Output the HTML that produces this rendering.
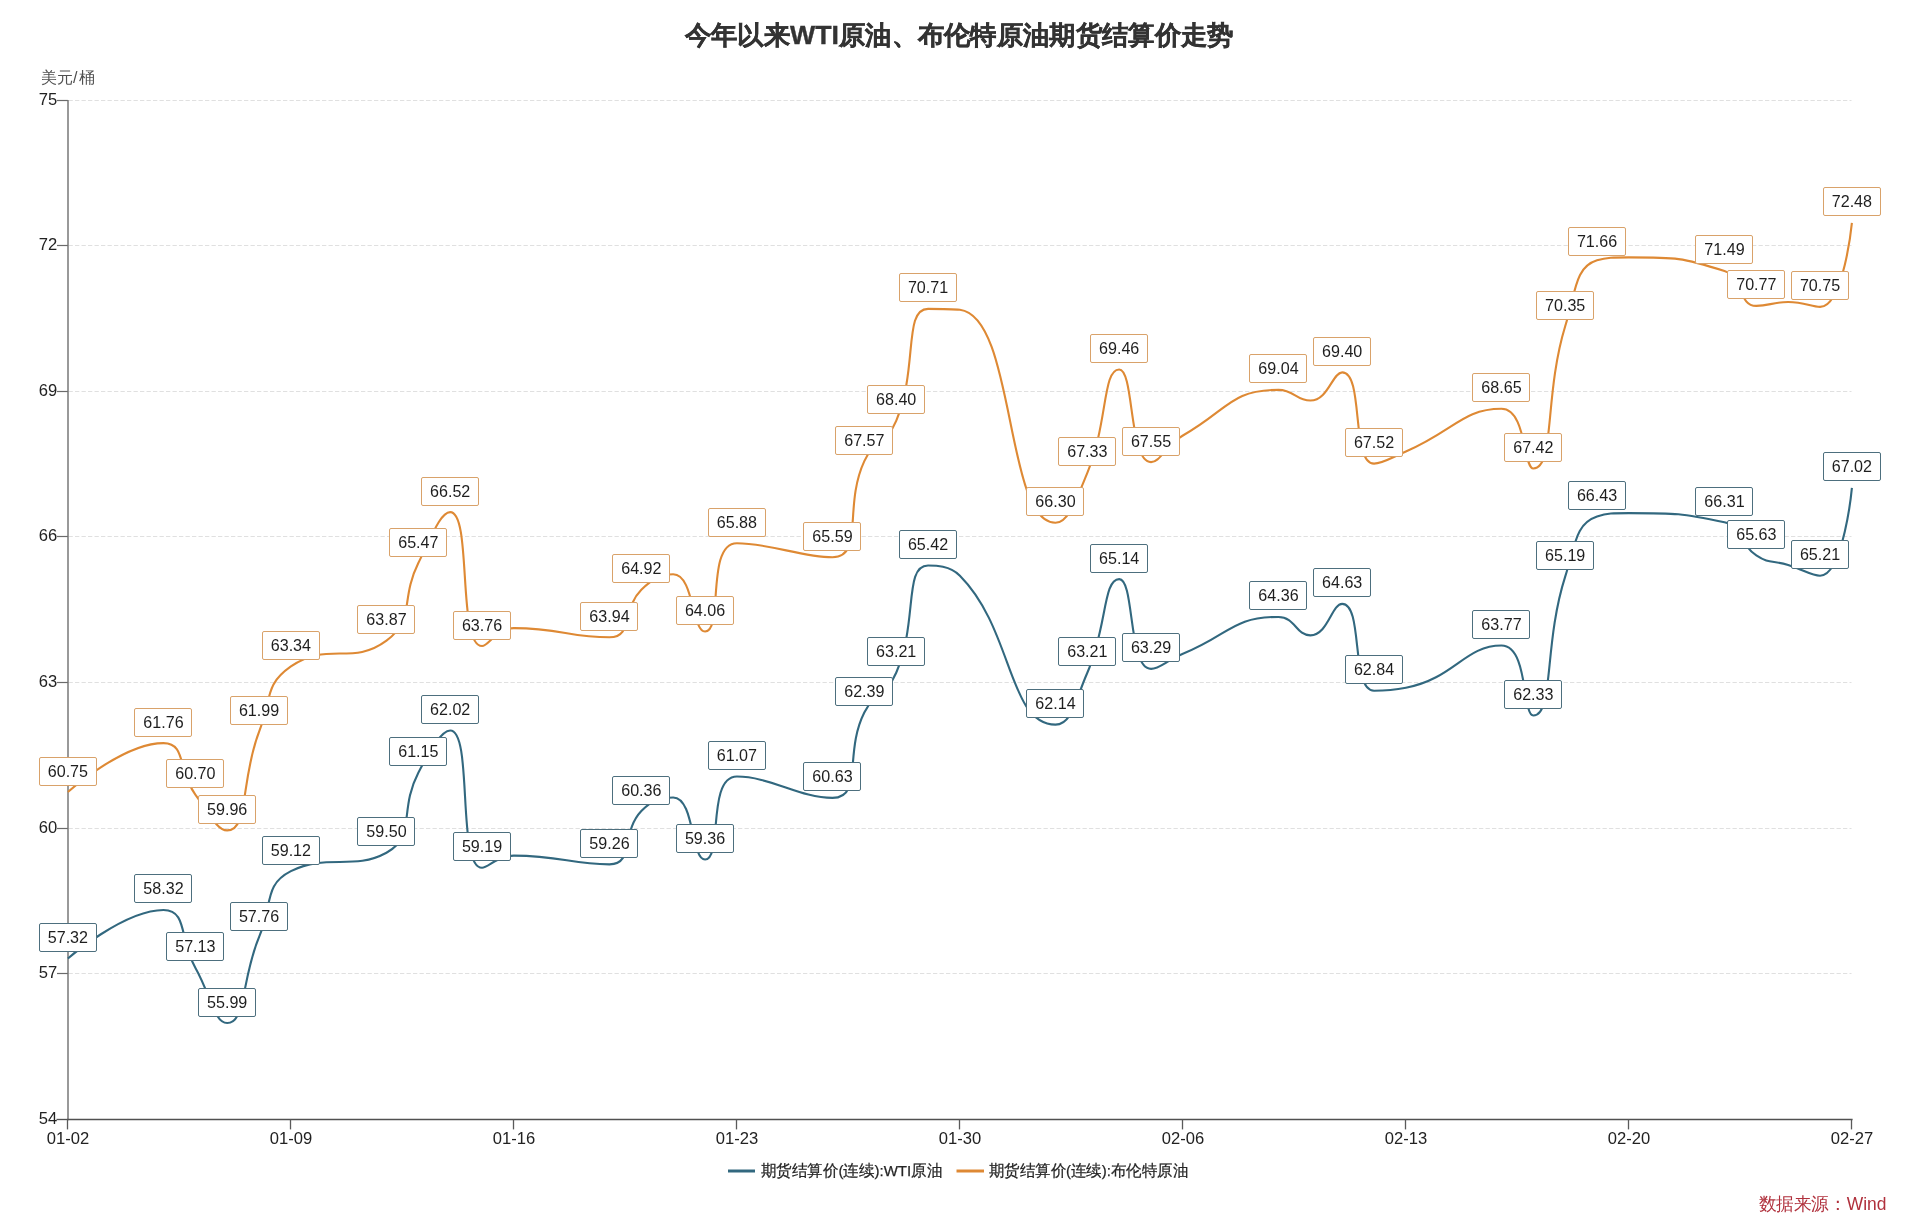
<!DOCTYPE html>
<html><head><meta charset="utf-8"><title>chart</title>
<style>
html,body{margin:0;padding:0;background:#fff;}
body{width:1919px;height:1231px;overflow:hidden;}
svg{display:block;font-family:"Liberation Sans", sans-serif;will-change:transform;}
</style></head><body>
<svg width="1919" height="1231" viewBox="0 0 1919 1231">
<rect width="1919" height="1231" fill="#fff"/>
<text x="959.2" y="44" text-anchor="middle" font-size="26.4" textLength="549" lengthAdjust="spacingAndGlyphs" font-weight="bold" fill="#333" stroke="#333" stroke-width="0.35" class="t">今年以来WTI原油、布伦特原油期货结算价走势</text>
<text x="41" y="82.6" font-size="16" fill="#505050">美元/<tspan dx="1.6">桶</tspan></text>
<line x1="68.5" y1="973.50" x2="1851.5" y2="973.50" stroke="#e0e0e0" stroke-width="1" stroke-dasharray="4.3 2.2"/>
<line x1="68.5" y1="828.50" x2="1851.5" y2="828.50" stroke="#e0e0e0" stroke-width="1" stroke-dasharray="4.3 2.2"/>
<line x1="68.5" y1="682.50" x2="1851.5" y2="682.50" stroke="#e0e0e0" stroke-width="1" stroke-dasharray="4.3 2.2"/>
<line x1="68.5" y1="536.50" x2="1851.5" y2="536.50" stroke="#e0e0e0" stroke-width="1" stroke-dasharray="4.3 2.2"/>
<line x1="68.5" y1="391.50" x2="1851.5" y2="391.50" stroke="#e0e0e0" stroke-width="1" stroke-dasharray="4.3 2.2"/>
<line x1="68.5" y1="245.50" x2="1851.5" y2="245.50" stroke="#e0e0e0" stroke-width="1" stroke-dasharray="4.3 2.2"/>
<line x1="68.5" y1="100.50" x2="1851.5" y2="100.50" stroke="#e0e0e0" stroke-width="1" stroke-dasharray="4.3 2.2"/>
<line x1="68" y1="100" x2="68" y2="1120.2" stroke="#6e6e6e" stroke-width="1.4"/>
<line x1="67.3" y1="1119.5" x2="1852.6" y2="1119.5" stroke="#505050" stroke-width="1.35"/>
<line x1="56.5" y1="1119.50" x2="67.90" y2="1119.50" stroke="#505050" stroke-width="1.35"/>
<text x="57.2" y="1123.50" text-anchor="end" font-size="16.6" fill="#222" class="n">54</text>
<line x1="57" y1="973.50" x2="67.90" y2="973.50" stroke="#6a6a6a" stroke-width="1.2"/>
<text x="57.2" y="977.50" text-anchor="end" font-size="16.6" fill="#222" class="n">57</text>
<line x1="57" y1="828.50" x2="67.90" y2="828.50" stroke="#6a6a6a" stroke-width="1.2"/>
<text x="57.2" y="832.50" text-anchor="end" font-size="16.6" fill="#222" class="n">60</text>
<line x1="57" y1="682.50" x2="67.90" y2="682.50" stroke="#6a6a6a" stroke-width="1.2"/>
<text x="57.2" y="686.50" text-anchor="end" font-size="16.6" fill="#222" class="n">63</text>
<line x1="57" y1="536.50" x2="67.90" y2="536.50" stroke="#6a6a6a" stroke-width="1.2"/>
<text x="57.2" y="540.50" text-anchor="end" font-size="16.6" fill="#222" class="n">66</text>
<line x1="57" y1="391.50" x2="67.90" y2="391.50" stroke="#6a6a6a" stroke-width="1.2"/>
<text x="57.2" y="395.50" text-anchor="end" font-size="16.6" fill="#222" class="n">69</text>
<line x1="57" y1="245.50" x2="67.90" y2="245.50" stroke="#6a6a6a" stroke-width="1.2"/>
<text x="57.2" y="249.50" text-anchor="end" font-size="16.6" fill="#222" class="n">72</text>
<line x1="57" y1="100.50" x2="67.90" y2="100.50" stroke="#6a6a6a" stroke-width="1.2"/>
<text x="57.2" y="104.50" text-anchor="end" font-size="16.6" fill="#222" class="n">75</text>
<line x1="67.50" y1="1119.5" x2="67.50" y2="1129.4" stroke="#5a5a5a" stroke-width="1.3"/>
<text x="67.90" y="1143.7" text-anchor="middle" font-size="16.6" fill="#222" class="n">01-02</text>
<line x1="290.50" y1="1119.5" x2="290.50" y2="1129.4" stroke="#5a5a5a" stroke-width="1.3"/>
<text x="290.90" y="1143.7" text-anchor="middle" font-size="16.6" fill="#222" class="n">01-09</text>
<line x1="513.50" y1="1119.5" x2="513.50" y2="1129.4" stroke="#5a5a5a" stroke-width="1.3"/>
<text x="513.90" y="1143.7" text-anchor="middle" font-size="16.6" fill="#222" class="n">01-16</text>
<line x1="736.50" y1="1119.5" x2="736.50" y2="1129.4" stroke="#5a5a5a" stroke-width="1.3"/>
<text x="736.90" y="1143.7" text-anchor="middle" font-size="16.6" fill="#222" class="n">01-23</text>
<line x1="959.50" y1="1119.5" x2="959.50" y2="1129.4" stroke="#5a5a5a" stroke-width="1.3"/>
<text x="959.90" y="1143.7" text-anchor="middle" font-size="16.6" fill="#222" class="n">01-30</text>
<line x1="1182.50" y1="1119.5" x2="1182.50" y2="1129.4" stroke="#5a5a5a" stroke-width="1.3"/>
<text x="1182.90" y="1143.7" text-anchor="middle" font-size="16.6" fill="#222" class="n">02-06</text>
<line x1="1405.50" y1="1119.5" x2="1405.50" y2="1129.4" stroke="#5a5a5a" stroke-width="1.3"/>
<text x="1405.90" y="1143.7" text-anchor="middle" font-size="16.6" fill="#222" class="n">02-13</text>
<line x1="1628.50" y1="1119.5" x2="1628.50" y2="1129.4" stroke="#5a5a5a" stroke-width="1.3"/>
<text x="1628.90" y="1143.7" text-anchor="middle" font-size="16.6" fill="#222" class="n">02-20</text>
<line x1="1851.50" y1="1119.5" x2="1851.50" y2="1129.4" stroke="#5a5a5a" stroke-width="1.3"/>
<text x="1851.90" y="1143.7" text-anchor="middle" font-size="16.6" fill="#222" class="n">02-27</text>
<path d="M67.90 958.51 C67.90 958.51 124.03 909.99 163.47 909.99 C187.74 909.99 179.14 939.01 195.33 967.73 C211.00 995.54 214.10 1023.05 227.19 1023.05 C245.96 1023.05 241.34 979.35 259.04 937.16 C273.20 903.42 263.54 885.06 290.90 871.18 C327.25 852.74 352.68 871.18 386.47 852.74 C416.39 836.42 398.59 810.57 418.33 772.68 C430.44 749.43 441.49 730.47 450.19 730.47 C473.35 730.47 456.39 867.78 482.04 867.78 C488.25 867.78 497.20 855.65 513.90 855.65 C560.91 855.65 570.80 864.38 609.47 864.38 C634.52 864.38 620.87 832.51 641.33 811.01 C652.73 799.03 662.62 797.43 673.19 797.43 C694.48 797.43 691.03 859.53 705.04 859.53 C722.89 859.53 706.59 776.56 736.90 776.56 C770.30 776.56 799.47 797.91 832.47 797.91 C863.19 797.91 843.90 752.66 864.33 712.52 C875.75 690.07 886.21 695.74 896.19 672.73 C918.07 622.23 903.52 565.50 928.04 565.50 C935.38 565.50 949.77 565.50 959.90 575.69 C1013.49 629.61 1008.07 724.65 1055.47 724.65 C1071.79 724.65 1075.19 700.47 1087.33 672.73 C1107.04 627.69 1102.96 579.09 1119.19 579.09 C1134.81 579.09 1127.79 668.85 1151.04 668.85 C1159.64 668.85 1166.60 660.45 1182.90 653.81 C1230.31 634.49 1231.60 616.93 1278.47 616.93 C1295.31 616.93 1295.96 635.37 1310.33 635.37 C1327.82 635.37 1331.79 603.83 1342.19 603.83 C1363.64 603.83 1350.37 690.68 1374.04 690.68 C1382.23 690.68 1390.96 690.68 1405.90 687.77 C1454.68 678.26 1464.75 645.56 1501.47 645.56 C1528.46 645.56 1522.17 715.43 1533.33 715.43 C1554.02 715.43 1543.63 643.95 1565.19 576.66 C1575.49 544.49 1575.38 523.71 1597.04 516.50 C1607.24 513.10 1612.96 513.10 1628.90 513.10 C1676.67 513.10 1681.35 513.10 1724.47 522.32 C1745.07 526.72 1737.87 542.94 1756.33 555.31 C1769.73 564.29 1772.33 559.94 1788.19 565.02 C1804.18 570.13 1811.62 575.69 1820.04 575.69 C1843.47 575.69 1851.90 487.87 1851.90 487.87" fill="none" stroke="#32687f" stroke-width="2.1" stroke-linejoin="round"/>
<path d="M67.90 792.09 C67.90 792.09 122.71 743.08 163.47 743.08 C186.43 743.08 177.57 770.17 195.33 794.52 C209.42 813.83 217.09 830.42 227.19 830.42 C248.95 830.42 240.34 780.06 259.04 731.93 C272.20 698.06 263.89 685.35 290.90 666.42 C327.60 640.71 351.99 666.42 386.47 640.71 C415.71 618.90 399.76 600.54 418.33 563.08 C431.62 536.25 440.51 512.13 450.19 512.13 C472.36 512.13 456.87 646.04 482.04 646.04 C488.73 646.04 496.33 628.09 513.90 628.09 C560.04 628.09 569.55 637.31 609.47 637.31 C633.27 637.31 621.65 609.24 641.33 589.76 C653.51 577.70 662.00 574.24 673.19 574.24 C693.86 574.24 691.95 631.49 705.04 631.49 C723.81 631.49 705.50 543.18 736.90 543.18 C769.21 543.18 802.07 557.25 832.47 557.25 C864.33 557.25 843.19 506.41 864.33 461.18 C875.05 438.24 886.44 444.21 896.19 420.91 C918.30 368.04 903.03 308.83 928.04 308.83 C934.89 308.83 952.25 308.83 959.90 309.80 C1015.96 316.91 1004.66 522.80 1055.47 522.80 C1068.37 522.80 1076.05 499.97 1087.33 472.83 C1107.91 423.31 1102.47 369.48 1119.19 369.48 C1134.33 369.48 1128.67 462.15 1151.04 462.15 C1160.53 462.15 1164.94 445.66 1182.90 435.47 C1228.66 409.51 1230.10 389.86 1278.47 389.86 C1293.82 389.86 1296.26 400.53 1310.33 400.53 C1328.12 400.53 1332.45 372.39 1342.19 372.39 C1364.31 372.39 1350.49 463.61 1374.04 463.61 C1382.35 463.61 1390.25 458.21 1405.90 451.48 C1453.96 430.80 1462.77 408.78 1501.47 408.78 C1526.48 408.78 1523.23 468.46 1533.33 468.46 C1555.08 468.46 1543.99 395.55 1565.19 326.30 C1575.85 291.47 1574.87 266.98 1597.04 260.31 C1606.72 257.40 1613.04 257.40 1628.90 257.40 C1676.76 257.40 1681.70 257.40 1724.47 270.99 C1745.42 277.64 1737.35 305.92 1756.33 305.92 C1769.21 305.92 1772.29 302.04 1788.19 302.04 C1804.15 302.04 1811.63 306.89 1820.04 306.89 C1843.49 306.89 1851.90 222.95 1851.90 222.95" fill="none" stroke="#de8934" stroke-width="2.1" stroke-linejoin="round"/>
<rect x="39.50" y="923.50" width="57" height="28" rx="1.5" ry="1.5" fill="#fff" stroke="#4d6f7e" stroke-width="1"/>
<text x="67.90" y="943.01" text-anchor="middle" font-size="16.1" fill="#1e1e1e" class="n">57.32</text>
<rect x="134.50" y="874.50" width="57" height="28" rx="1.5" ry="1.5" fill="#fff" stroke="#4d6f7e" stroke-width="1"/>
<text x="163.47" y="894.49" text-anchor="middle" font-size="16.1" fill="#1e1e1e" class="n">58.32</text>
<rect x="166.50" y="932.50" width="57" height="28" rx="1.5" ry="1.5" fill="#fff" stroke="#4d6f7e" stroke-width="1"/>
<text x="195.33" y="952.23" text-anchor="middle" font-size="16.1" fill="#1e1e1e" class="n">57.13</text>
<rect x="198.50" y="988.50" width="57" height="28" rx="1.5" ry="1.5" fill="#fff" stroke="#4d6f7e" stroke-width="1"/>
<text x="227.19" y="1007.55" text-anchor="middle" font-size="16.1" fill="#1e1e1e" class="n">55.99</text>
<rect x="230.50" y="902.50" width="57" height="28" rx="1.5" ry="1.5" fill="#fff" stroke="#4d6f7e" stroke-width="1"/>
<text x="259.04" y="921.66" text-anchor="middle" font-size="16.1" fill="#1e1e1e" class="n">57.76</text>
<rect x="262.50" y="836.50" width="57" height="28" rx="1.5" ry="1.5" fill="#fff" stroke="#4d6f7e" stroke-width="1"/>
<text x="290.90" y="855.68" text-anchor="middle" font-size="16.1" fill="#1e1e1e" class="n">59.12</text>
<rect x="357.50" y="817.50" width="57" height="28" rx="1.5" ry="1.5" fill="#fff" stroke="#4d6f7e" stroke-width="1"/>
<text x="386.47" y="837.24" text-anchor="middle" font-size="16.1" fill="#1e1e1e" class="n">59.50</text>
<rect x="389.50" y="737.50" width="57" height="28" rx="1.5" ry="1.5" fill="#fff" stroke="#4d6f7e" stroke-width="1"/>
<text x="418.33" y="757.18" text-anchor="middle" font-size="16.1" fill="#1e1e1e" class="n">61.15</text>
<rect x="421.50" y="695.50" width="57" height="28" rx="1.5" ry="1.5" fill="#fff" stroke="#4d6f7e" stroke-width="1"/>
<text x="450.19" y="714.97" text-anchor="middle" font-size="16.1" fill="#1e1e1e" class="n">62.02</text>
<rect x="453.50" y="832.50" width="57" height="28" rx="1.5" ry="1.5" fill="#fff" stroke="#4d6f7e" stroke-width="1"/>
<text x="482.04" y="852.28" text-anchor="middle" font-size="16.1" fill="#1e1e1e" class="n">59.19</text>
<rect x="580.50" y="829.50" width="57" height="28" rx="1.5" ry="1.5" fill="#fff" stroke="#4d6f7e" stroke-width="1"/>
<text x="609.47" y="848.88" text-anchor="middle" font-size="16.1" fill="#1e1e1e" class="n">59.26</text>
<rect x="612.50" y="776.50" width="57" height="28" rx="1.5" ry="1.5" fill="#fff" stroke="#4d6f7e" stroke-width="1"/>
<text x="641.33" y="795.51" text-anchor="middle" font-size="16.1" fill="#1e1e1e" class="n">60.36</text>
<rect x="676.50" y="824.50" width="57" height="28" rx="1.5" ry="1.5" fill="#fff" stroke="#4d6f7e" stroke-width="1"/>
<text x="705.04" y="844.03" text-anchor="middle" font-size="16.1" fill="#1e1e1e" class="n">59.36</text>
<rect x="708.50" y="741.50" width="57" height="28" rx="1.5" ry="1.5" fill="#fff" stroke="#4d6f7e" stroke-width="1"/>
<text x="736.90" y="761.06" text-anchor="middle" font-size="16.1" fill="#1e1e1e" class="n">61.07</text>
<rect x="803.50" y="762.50" width="57" height="28" rx="1.5" ry="1.5" fill="#fff" stroke="#4d6f7e" stroke-width="1"/>
<text x="832.47" y="782.41" text-anchor="middle" font-size="16.1" fill="#1e1e1e" class="n">60.63</text>
<rect x="835.50" y="677.50" width="57" height="28" rx="1.5" ry="1.5" fill="#fff" stroke="#4d6f7e" stroke-width="1"/>
<text x="864.33" y="697.02" text-anchor="middle" font-size="16.1" fill="#1e1e1e" class="n">62.39</text>
<rect x="867.50" y="637.50" width="57" height="28" rx="1.5" ry="1.5" fill="#fff" stroke="#4d6f7e" stroke-width="1"/>
<text x="896.19" y="657.23" text-anchor="middle" font-size="16.1" fill="#1e1e1e" class="n">63.21</text>
<rect x="899.50" y="530.50" width="57" height="28" rx="1.5" ry="1.5" fill="#fff" stroke="#4d6f7e" stroke-width="1"/>
<text x="928.04" y="550.00" text-anchor="middle" font-size="16.1" fill="#1e1e1e" class="n">65.42</text>
<rect x="1026.50" y="689.50" width="57" height="28" rx="1.5" ry="1.5" fill="#fff" stroke="#4d6f7e" stroke-width="1"/>
<text x="1055.47" y="709.15" text-anchor="middle" font-size="16.1" fill="#1e1e1e" class="n">62.14</text>
<rect x="1058.50" y="637.50" width="57" height="28" rx="1.5" ry="1.5" fill="#fff" stroke="#4d6f7e" stroke-width="1"/>
<text x="1087.33" y="657.23" text-anchor="middle" font-size="16.1" fill="#1e1e1e" class="n">63.21</text>
<rect x="1090.50" y="544.50" width="57" height="28" rx="1.5" ry="1.5" fill="#fff" stroke="#4d6f7e" stroke-width="1"/>
<text x="1119.19" y="563.59" text-anchor="middle" font-size="16.1" fill="#1e1e1e" class="n">65.14</text>
<rect x="1122.50" y="633.50" width="57" height="28" rx="1.5" ry="1.5" fill="#fff" stroke="#4d6f7e" stroke-width="1"/>
<text x="1151.04" y="653.35" text-anchor="middle" font-size="16.1" fill="#1e1e1e" class="n">63.29</text>
<rect x="1249.50" y="581.50" width="57" height="28" rx="1.5" ry="1.5" fill="#fff" stroke="#4d6f7e" stroke-width="1"/>
<text x="1278.47" y="601.43" text-anchor="middle" font-size="16.1" fill="#1e1e1e" class="n">64.36</text>
<rect x="1313.50" y="568.50" width="57" height="28" rx="1.5" ry="1.5" fill="#fff" stroke="#4d6f7e" stroke-width="1"/>
<text x="1342.19" y="588.33" text-anchor="middle" font-size="16.1" fill="#1e1e1e" class="n">64.63</text>
<rect x="1345.50" y="655.50" width="57" height="28" rx="1.5" ry="1.5" fill="#fff" stroke="#4d6f7e" stroke-width="1"/>
<text x="1374.04" y="675.18" text-anchor="middle" font-size="16.1" fill="#1e1e1e" class="n">62.84</text>
<rect x="1472.50" y="610.50" width="57" height="28" rx="1.5" ry="1.5" fill="#fff" stroke="#4d6f7e" stroke-width="1"/>
<text x="1501.47" y="630.06" text-anchor="middle" font-size="16.1" fill="#1e1e1e" class="n">63.77</text>
<rect x="1504.50" y="680.50" width="57" height="28" rx="1.5" ry="1.5" fill="#fff" stroke="#4d6f7e" stroke-width="1"/>
<text x="1533.33" y="699.93" text-anchor="middle" font-size="16.1" fill="#1e1e1e" class="n">62.33</text>
<rect x="1536.50" y="541.50" width="57" height="28" rx="1.5" ry="1.5" fill="#fff" stroke="#4d6f7e" stroke-width="1"/>
<text x="1565.19" y="561.16" text-anchor="middle" font-size="16.1" fill="#1e1e1e" class="n">65.19</text>
<rect x="1568.50" y="481.50" width="57" height="28" rx="1.5" ry="1.5" fill="#fff" stroke="#4d6f7e" stroke-width="1"/>
<text x="1597.04" y="501.00" text-anchor="middle" font-size="16.1" fill="#1e1e1e" class="n">66.43</text>
<rect x="1695.50" y="487.50" width="57" height="28" rx="1.5" ry="1.5" fill="#fff" stroke="#4d6f7e" stroke-width="1"/>
<text x="1724.47" y="506.82" text-anchor="middle" font-size="16.1" fill="#1e1e1e" class="n">66.31</text>
<rect x="1727.50" y="520.50" width="57" height="28" rx="1.5" ry="1.5" fill="#fff" stroke="#4d6f7e" stroke-width="1"/>
<text x="1756.33" y="539.81" text-anchor="middle" font-size="16.1" fill="#1e1e1e" class="n">65.63</text>
<rect x="1791.50" y="540.50" width="57" height="28" rx="1.5" ry="1.5" fill="#fff" stroke="#4d6f7e" stroke-width="1"/>
<text x="1820.04" y="560.19" text-anchor="middle" font-size="16.1" fill="#1e1e1e" class="n">65.21</text>
<rect x="1823.50" y="452.50" width="57" height="28" rx="1.5" ry="1.5" fill="#fff" stroke="#4d6f7e" stroke-width="1"/>
<text x="1851.90" y="472.37" text-anchor="middle" font-size="16.1" fill="#1e1e1e" class="n">67.02</text>
<rect x="39.50" y="757.50" width="57" height="28" rx="1.5" ry="1.5" fill="#fff" stroke="#d9a26a" stroke-width="1"/>
<text x="67.90" y="776.59" text-anchor="middle" font-size="16.1" fill="#1e1e1e" class="n">60.75</text>
<rect x="134.50" y="708.50" width="57" height="28" rx="1.5" ry="1.5" fill="#fff" stroke="#d9a26a" stroke-width="1"/>
<text x="163.47" y="727.58" text-anchor="middle" font-size="16.1" fill="#1e1e1e" class="n">61.76</text>
<rect x="166.50" y="759.50" width="57" height="28" rx="1.5" ry="1.5" fill="#fff" stroke="#d9a26a" stroke-width="1"/>
<text x="195.33" y="779.02" text-anchor="middle" font-size="16.1" fill="#1e1e1e" class="n">60.70</text>
<rect x="198.50" y="795.50" width="57" height="28" rx="1.5" ry="1.5" fill="#fff" stroke="#d9a26a" stroke-width="1"/>
<text x="227.19" y="814.92" text-anchor="middle" font-size="16.1" fill="#1e1e1e" class="n">59.96</text>
<rect x="230.50" y="696.50" width="57" height="28" rx="1.5" ry="1.5" fill="#fff" stroke="#d9a26a" stroke-width="1"/>
<text x="259.04" y="716.43" text-anchor="middle" font-size="16.1" fill="#1e1e1e" class="n">61.99</text>
<rect x="262.50" y="631.50" width="57" height="28" rx="1.5" ry="1.5" fill="#fff" stroke="#d9a26a" stroke-width="1"/>
<text x="290.90" y="650.92" text-anchor="middle" font-size="16.1" fill="#1e1e1e" class="n">63.34</text>
<rect x="357.50" y="605.50" width="57" height="28" rx="1.5" ry="1.5" fill="#fff" stroke="#d9a26a" stroke-width="1"/>
<text x="386.47" y="625.21" text-anchor="middle" font-size="16.1" fill="#1e1e1e" class="n">63.87</text>
<rect x="389.50" y="528.50" width="57" height="28" rx="1.5" ry="1.5" fill="#fff" stroke="#d9a26a" stroke-width="1"/>
<text x="418.33" y="547.58" text-anchor="middle" font-size="16.1" fill="#1e1e1e" class="n">65.47</text>
<rect x="421.50" y="477.50" width="57" height="28" rx="1.5" ry="1.5" fill="#fff" stroke="#d9a26a" stroke-width="1"/>
<text x="450.19" y="496.63" text-anchor="middle" font-size="16.1" fill="#1e1e1e" class="n">66.52</text>
<rect x="453.50" y="611.50" width="57" height="28" rx="1.5" ry="1.5" fill="#fff" stroke="#d9a26a" stroke-width="1"/>
<text x="482.04" y="630.54" text-anchor="middle" font-size="16.1" fill="#1e1e1e" class="n">63.76</text>
<rect x="580.50" y="602.50" width="57" height="28" rx="1.5" ry="1.5" fill="#fff" stroke="#d9a26a" stroke-width="1"/>
<text x="609.47" y="621.81" text-anchor="middle" font-size="16.1" fill="#1e1e1e" class="n">63.94</text>
<rect x="612.50" y="554.50" width="57" height="28" rx="1.5" ry="1.5" fill="#fff" stroke="#d9a26a" stroke-width="1"/>
<text x="641.33" y="574.26" text-anchor="middle" font-size="16.1" fill="#1e1e1e" class="n">64.92</text>
<rect x="676.50" y="596.50" width="57" height="28" rx="1.5" ry="1.5" fill="#fff" stroke="#d9a26a" stroke-width="1"/>
<text x="705.04" y="615.99" text-anchor="middle" font-size="16.1" fill="#1e1e1e" class="n">64.06</text>
<rect x="708.50" y="508.50" width="57" height="28" rx="1.5" ry="1.5" fill="#fff" stroke="#d9a26a" stroke-width="1"/>
<text x="736.90" y="527.68" text-anchor="middle" font-size="16.1" fill="#1e1e1e" class="n">65.88</text>
<rect x="803.50" y="522.50" width="57" height="28" rx="1.5" ry="1.5" fill="#fff" stroke="#d9a26a" stroke-width="1"/>
<text x="832.47" y="541.75" text-anchor="middle" font-size="16.1" fill="#1e1e1e" class="n">65.59</text>
<rect x="835.50" y="426.50" width="57" height="28" rx="1.5" ry="1.5" fill="#fff" stroke="#d9a26a" stroke-width="1"/>
<text x="864.33" y="445.68" text-anchor="middle" font-size="16.1" fill="#1e1e1e" class="n">67.57</text>
<rect x="867.50" y="385.50" width="57" height="28" rx="1.5" ry="1.5" fill="#fff" stroke="#d9a26a" stroke-width="1"/>
<text x="896.19" y="405.41" text-anchor="middle" font-size="16.1" fill="#1e1e1e" class="n">68.40</text>
<rect x="899.50" y="273.50" width="57" height="28" rx="1.5" ry="1.5" fill="#fff" stroke="#d9a26a" stroke-width="1"/>
<text x="928.04" y="293.33" text-anchor="middle" font-size="16.1" fill="#1e1e1e" class="n">70.71</text>
<rect x="1026.50" y="487.50" width="57" height="28" rx="1.5" ry="1.5" fill="#fff" stroke="#d9a26a" stroke-width="1"/>
<text x="1055.47" y="507.30" text-anchor="middle" font-size="16.1" fill="#1e1e1e" class="n">66.30</text>
<rect x="1058.50" y="437.50" width="57" height="28" rx="1.5" ry="1.5" fill="#fff" stroke="#d9a26a" stroke-width="1"/>
<text x="1087.33" y="457.33" text-anchor="middle" font-size="16.1" fill="#1e1e1e" class="n">67.33</text>
<rect x="1090.50" y="334.50" width="57" height="28" rx="1.5" ry="1.5" fill="#fff" stroke="#d9a26a" stroke-width="1"/>
<text x="1119.19" y="353.98" text-anchor="middle" font-size="16.1" fill="#1e1e1e" class="n">69.46</text>
<rect x="1122.50" y="427.50" width="57" height="28" rx="1.5" ry="1.5" fill="#fff" stroke="#d9a26a" stroke-width="1"/>
<text x="1151.04" y="446.65" text-anchor="middle" font-size="16.1" fill="#1e1e1e" class="n">67.55</text>
<rect x="1249.50" y="354.50" width="57" height="28" rx="1.5" ry="1.5" fill="#fff" stroke="#d9a26a" stroke-width="1"/>
<text x="1278.47" y="374.36" text-anchor="middle" font-size="16.1" fill="#1e1e1e" class="n">69.04</text>
<rect x="1313.50" y="337.50" width="57" height="28" rx="1.5" ry="1.5" fill="#fff" stroke="#d9a26a" stroke-width="1"/>
<text x="1342.19" y="356.89" text-anchor="middle" font-size="16.1" fill="#1e1e1e" class="n">69.40</text>
<rect x="1345.50" y="428.50" width="57" height="28" rx="1.5" ry="1.5" fill="#fff" stroke="#d9a26a" stroke-width="1"/>
<text x="1374.04" y="448.11" text-anchor="middle" font-size="16.1" fill="#1e1e1e" class="n">67.52</text>
<rect x="1472.50" y="373.50" width="57" height="28" rx="1.5" ry="1.5" fill="#fff" stroke="#d9a26a" stroke-width="1"/>
<text x="1501.47" y="393.28" text-anchor="middle" font-size="16.1" fill="#1e1e1e" class="n">68.65</text>
<rect x="1504.50" y="433.50" width="57" height="28" rx="1.5" ry="1.5" fill="#fff" stroke="#d9a26a" stroke-width="1"/>
<text x="1533.33" y="452.96" text-anchor="middle" font-size="16.1" fill="#1e1e1e" class="n">67.42</text>
<rect x="1536.50" y="291.50" width="57" height="28" rx="1.5" ry="1.5" fill="#fff" stroke="#d9a26a" stroke-width="1"/>
<text x="1565.19" y="310.80" text-anchor="middle" font-size="16.1" fill="#1e1e1e" class="n">70.35</text>
<rect x="1568.50" y="227.50" width="57" height="28" rx="1.5" ry="1.5" fill="#fff" stroke="#d9a26a" stroke-width="1"/>
<text x="1597.04" y="247.24" text-anchor="middle" font-size="16.1" fill="#1e1e1e" class="n">71.66</text>
<rect x="1695.50" y="235.50" width="57" height="28" rx="1.5" ry="1.5" fill="#fff" stroke="#d9a26a" stroke-width="1"/>
<text x="1724.47" y="255.49" text-anchor="middle" font-size="16.1" fill="#1e1e1e" class="n">71.49</text>
<rect x="1727.50" y="270.50" width="57" height="28" rx="1.5" ry="1.5" fill="#fff" stroke="#d9a26a" stroke-width="1"/>
<text x="1756.33" y="290.42" text-anchor="middle" font-size="16.1" fill="#1e1e1e" class="n">70.77</text>
<rect x="1791.50" y="271.50" width="57" height="28" rx="1.5" ry="1.5" fill="#fff" stroke="#d9a26a" stroke-width="1"/>
<text x="1820.04" y="291.39" text-anchor="middle" font-size="16.1" fill="#1e1e1e" class="n">70.75</text>
<rect x="1823.50" y="187.50" width="57" height="28" rx="1.5" ry="1.5" fill="#fff" stroke="#d9a26a" stroke-width="1"/>
<text x="1851.90" y="207.45" text-anchor="middle" font-size="16.1" fill="#1e1e1e" class="n">72.48</text>
<line x1="728" y1="1171" x2="755" y2="1171" stroke="#32687f" stroke-width="3"/>
<text x="760.8" y="1176" font-size="15.5" fill="#262626" stroke="#262626" stroke-width="0.25" textLength="181.5" lengthAdjust="spacingAndGlyphs">期货结算价(连续):WTI原油</text>
<line x1="956.5" y1="1171" x2="984" y2="1171" stroke="#de8934" stroke-width="3"/>
<text x="988.8" y="1176" font-size="15.5" fill="#262626" stroke="#262626" stroke-width="0.25" textLength="199.3" lengthAdjust="spacingAndGlyphs">期货结算价(连续):布伦特原油</text>
<text x="1886.5" y="1210" text-anchor="end" font-size="17.8" fill="#b0303c" textLength="128" lengthAdjust="spacingAndGlyphs">数据来源：Wind</text>
</svg>
</body></html>
